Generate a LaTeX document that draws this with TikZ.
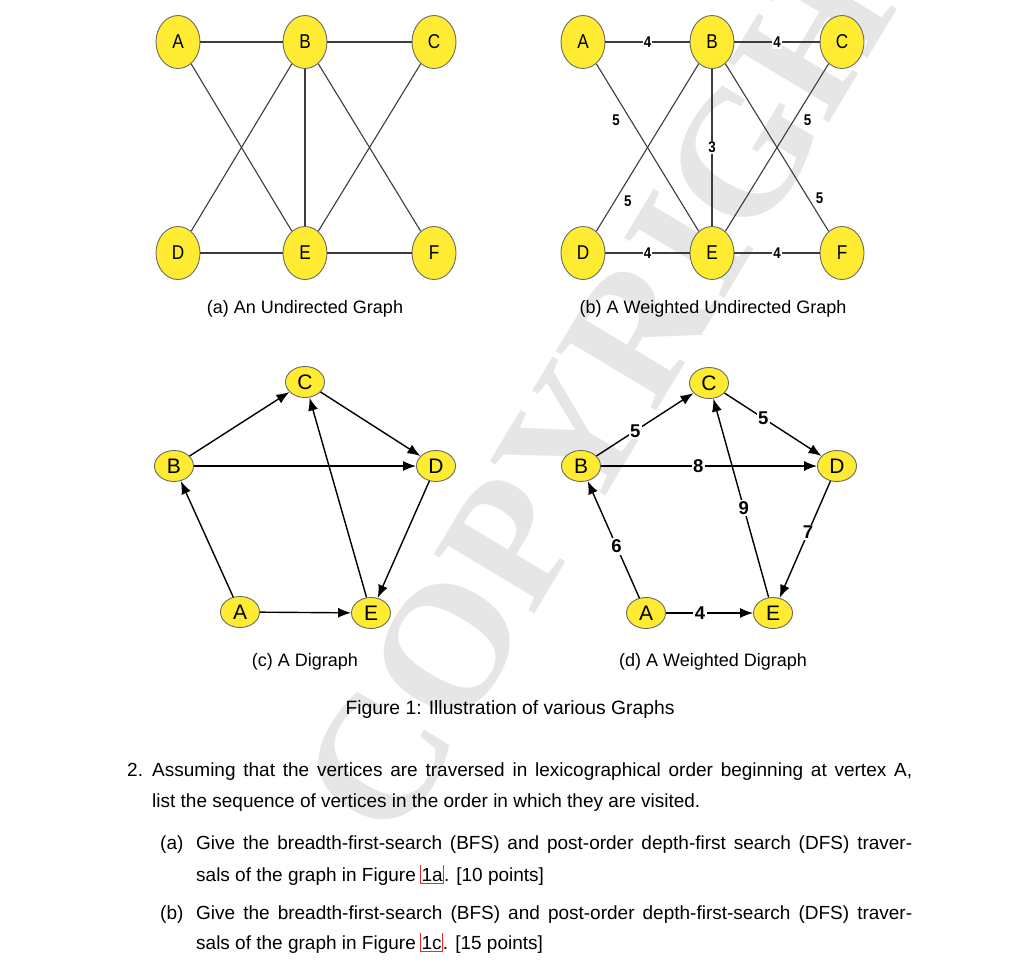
\documentclass[tikz,border=0pt]{standalone}
\usepackage{fontspec}
\usepackage{graphicx}
\setmainfont{Liberation Sans}
\newfontfamily\narrowfont[FakeStretch=0.86]{Liberation Sans}
\newfontfamily\wmfont{Liberation Serif}
\usetikzlibrary{shapes.geometric,arrows.meta}
\definecolor{ylw}{RGB}{255,236,50}
\definecolor{bord}{RGB}{105,105,105}
\definecolor{edg}{RGB}{60,60,60}
\definecolor{wmc}{RGB}{230,230,230}
\definecolor{lnkred}{RGB}{240,40,40}
\tikzset{
  bigv/.style={ellipse, draw=bord, fill=ylw, line width=0.9pt, minimum width=44pt, minimum height=53pt, inner sep=0pt, font=\narrowfont\fontsize{20}{20}\selectfont},
  smv/.style={ellipse, draw=bord, fill=ylw, line width=0.9pt, minimum width=39pt, minimum height=31pt, inner sep=0pt, font=\fontsize{21}{21}\selectfont},
  uedge/.style={draw=edg, line width=1.1pt},
  dedge/.style={draw=black, line width=1.4pt, -{Latex[length=13pt,width=10pt]}},
  wl/.style={fill=white, inner sep=1.2pt, font=\narrowfont\bfseries\fontsize{15.5}{15.5}\selectfont},
  sl/.style={inner sep=0pt, font=\narrowfont\bfseries\fontsize{15.5}{15.5}\selectfont},
  dl/.style={fill=white, inner sep=1.5pt, font=\bfseries\fontsize{18.5}{18.5}\selectfont},
  subcap/.style={anchor=base, inner sep=0pt, font=\fontsize{18}{18}\selectfont},
  body/.style={anchor=base west, inner sep=0pt, font=\fontsize{19}{19}\selectfont},
  lnkbox/.style={body, inner xsep=0.8pt, inner ysep=2.5pt},
  lnkline/.style={draw=lnkred, line width=0.9pt},
}
\begin{document}
\begin{tikzpicture}[x=1pt,y=-1pt]
\fill[white] (0,0) rectangle (1024,979);
\useasboundingbox (0,0) rectangle (1024,979);
% watermark
\node[rotate=59, text=wmc, inner sep=0pt, font=\wmfont\bfseries\fontsize{178}{178}\selectfont] (wm) at (628,346) {COPYRIGHT};

% (a)
\node[bigv] (aA) at (178,42) {A};
\node[bigv] (aB) at (305,42) {B};
\node[bigv] (aC) at (434,42) {C};
\node[bigv] (aD) at (178,253) {D};
\node[bigv] (aE) at (305,253) {E};
\node[bigv] (aF) at (434,253) {F};
\draw[uedge] (aA) -- (aB);
\draw[uedge] (aB) -- (aC);
\draw[uedge] (aA) -- (aE);
\draw[uedge] (aB) -- (aD);
\draw[uedge] (aB) -- (aE);
\draw[uedge] (aB) -- (aF);
\draw[uedge] (aC) -- (aE);
\draw[uedge] (aD) -- (aE);
\draw[uedge] (aE) -- (aF);
\node[subcap] (capa) at (305,313) {(a) An Undirected Graph};

% (b)
\node[bigv] (bA) at (583,42) {A};
\node[bigv] (bB) at (712,42) {B};
\node[bigv] (bC) at (842,42) {C};
\node[bigv] (bD) at (583,253) {D};
\node[bigv] (bE) at (712,253) {E};
\node[bigv] (bF) at (842,253) {F};
\draw[uedge] (bA) -- node[wl] {4} (bB);
\draw[uedge] (bB) -- node[wl] {4} (bC);
\draw[uedge] (bA) -- node[sl, pos=0.30, shift={(-11,6)}] {5} (bE);
\draw[uedge] (bB) -- node[sl, pos=0.79, shift={(10,5)}] {5} (bD);
\draw[uedge] (bB) -- node[wl] {3} (bE);
\draw[uedge] (bB) -- node[sl, pos=0.835, shift={(8,-5)}] {5} (bF);
\draw[uedge] (bC) -- node[sl, pos=0.30, shift={(10,6)}] {5} (bE);
\draw[uedge] (bD) -- node[wl] {4} (bE);
\draw[uedge] (bE) -- node[wl] {4} (bF);
\node[subcap] (capb) at (713,313) {(b) A Weighted Undirected Graph};

% (c)
\node[smv] (cC) at (305,382) {C};
\node[smv] (cB) at (174,466) {B};
\node[smv] (cD) at (436,466) {D};
\node[smv] (cA) at (240,612) {A};
\node[smv] (cE) at (371,613) {E};
\draw[dedge] (cB) -- (cC);
\draw[dedge] (cC) -- (cD);
\draw[dedge] (cB) -- (cD);
\draw[dedge] (cD) -- (cE);
\draw[dedge] (cE) -- (cC);
\draw[dedge] (cA) -- (cB);
\draw[dedge] (cA) -- (cE);
\node[subcap] (capc) at (305,666) {(c) A Digraph};

% (d)
\node[smv] (dC) at (709,383) {C};
\node[smv] (dB) at (581,466) {B};
\node[smv] (dD) at (837,466) {D};
\node[smv] (dA) at (646,613) {A};
\node[smv] (dE) at (773,613) {E};
\draw[dedge] (dB) -- node[dl, pos=0.40] {5} (dC);
\draw[dedge] (dC) -- node[dl, pos=0.40] {5} (dD);
\draw[dedge] (dB) -- node[dl, pos=0.45] {8} (dD);
\draw[dedge] (dD) -- node[dl, pos=0.44] {7} (dE);
\draw[dedge] (dE) -- node[dl, pos=0.45] {9} (dC);
\draw[dedge] (dA) -- node[dl, pos=0.44] {6} (dB);
\draw[dedge] (dA) -- node[dl, pos=0.39] {4} (dE);
\node[subcap] (capd) at (713,666) {(d) A Weighted Digraph};

% caption and text
\node[anchor=base, inner sep=0pt, font=\fontsize{19.3}{19.3}\selectfont] (fig) at (510,714) {Figure 1: Illustration of various Graphs};
\node[body] (n2) at (127,776) {2.};
\node[body] (l1) at (152,776) {\hbox to 760pt{Assuming that the vertices are traversed in lexicographical order beginning at vertex A,}};
\node[body] (l2) at (152,807) {list the sequence of vertices in the order in which they are visited.};
\node[body] (qa) at (160,849) {(a)};
\node[body] (qa1) at (196,849) {\hbox to 716pt{Give the breadth-first-search (BFS) and post-order depth-first search (DFS) traver-}};
\node[body] (qa2) at (196,881) {sals of the graph in Figure\kern4.6pt};
\node[lnkbox] (qa2l) at (qa2.base east) {1a};
\node[body] (qa2r) at (qa2l.base east) {. [10 points]};
\draw[lnkline] (qa2l.north west) -- (qa2l.south west) -- (qa2l.south east) -- (qa2l.north east);
\node[body] (qb) at (160,919) {(b)};
\node[body] (qb1) at (196,919) {\hbox to 716pt{Give the breadth-first-search (BFS) and post-order depth-first-search (DFS) traver-}};
\node[body] (qb2) at (196,949) {sals of the graph in Figure\kern4.6pt};
\node[lnkbox] (qb2l) at (qb2.base east) {1c};
\node[body] (qb2r) at (qb2l.base east) {. [15 points]};
\draw[lnkline] (qb2l.north west) -- (qb2l.south west) -- (qb2l.south east) -- (qb2l.north east);
\end{tikzpicture}
\end{document}
